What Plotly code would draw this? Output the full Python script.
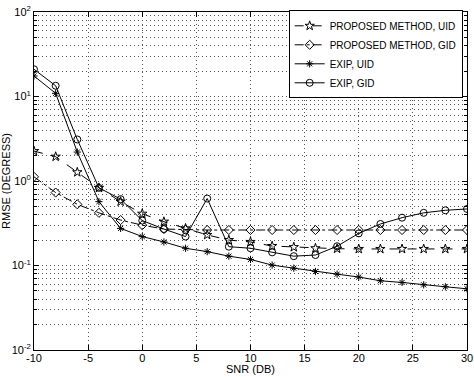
import plotly.graph_objects as go

snr = [-10, -8, -6, -4, -2, 0, 2, 4, 6, 8, 10, 12, 14, 16, 18, 20, 22, 24, 26, 28, 30]

proposed_uid = [2.26, 1.94, 1.27, 0.83, 0.57, 0.41, 0.33, 0.275, 0.23, 0.20, 0.19, 0.17,
                0.165, 0.16, 0.158, 0.157, 0.157, 0.157, 0.157, 0.157, 0.157]
proposed_gid = [1.12, 0.73, 0.53, 0.42, 0.345, 0.30, 0.27, 0.265, 0.263, 0.263, 0.263, 0.263,
                0.263, 0.263, 0.263, 0.263, 0.263, 0.263, 0.263, 0.263, 0.263]
exip_uid = [17.5, 10.9, 2.2, 0.57, 0.275, 0.22, 0.19, 0.16, 0.146, 0.129, 0.118, 0.101,
            0.093, 0.085, 0.079, 0.073, 0.066, 0.063, 0.059, 0.056, 0.053]
exip_gid = [21.0, 13.4, 3.1, 0.83, 0.61, 0.34, 0.27, 0.22, 0.62, 0.167, 0.16, 0.143,
            0.129, 0.133, 0.169, 0.24, 0.31, 0.368, 0.42, 0.45, 0.467]

names = ["PROPOSED METHOD, UID", "PROPOSED METHOD, GID", "EXIP, UID", "EXIP, GID"]

y_tickvals = [0.01, 0.1, 1, 10, 100]
y_ticktext = ["10<sup>-2</sup>", "10<sup>-1</sup>", "10<sup>0</sup>", "10<sup>1</sup>", "10<sup>2</sup>"]
x_tickvals = [-10, -5, 0, 5, 10, 15, 20, 25, 30]

FONT = "Liberation Sans, Arial"
GRID = "#555555"
GDASH = "1px,3px"

series = [
    (proposed_uid, "star-open", "dash", 7),
    (proposed_gid, "diamond-open", "dashdot", 7),
    (exip_uid, "asterisk-open", "solid", 6),
    (exip_gid, "circle-open", "solid", 7),
]

fig = go.Figure()
for (vals, sym, dash, msize), name in zip(series, names):
    fig.add_trace(go.Scatter(
        x=snr, y=vals, name=name, mode="lines+markers",
        line=dict(color="black", width=1, dash=dash),
        marker=dict(symbol=sym, size=msize, color="black", line=dict(color="black", width=1)),
    ))

axis_common = dict(
    showline=True, linecolor="black", linewidth=1, mirror="ticks",
    ticks="inside", tickcolor="black", ticklen=5,
    showgrid=True, gridcolor=GRID, gridwidth=1, griddash=GDASH,
    zeroline=False, automargin=False,
    tickfont=dict(family=FONT, size=11, color="black"),
)

fig.update_xaxes(
    range=[-10, 30], tickvals=x_tickvals, ticktext=[str(v) for v in x_tickvals],
    ticklabelstandoff=-2,
    **axis_common,
)
fig.update_yaxes(
    type="log", range=[-2, 2], tickvals=y_tickvals, ticktext=y_ticktext,
    title=dict(text="RMSE (DEGRESS)", font=dict(family=FONT, size=11, color="black"), standoff=6),
    minor=dict(ticks="inside", ticklen=3, tickcolor="black", showgrid=True,
               gridcolor=GRID, griddash=GDASH,
               tickvals=[m * 10 ** e for e in (-2, -1, 0, 1) for m in range(2, 10)]),
    **axis_common,
)

fig.add_annotation(
    text="SNR (DB)", xref="paper", yref="paper", x=0.5, y=-0.079,
    xanchor="center", yanchor="bottom", showarrow=False,
    font=dict(family=FONT, size=11, color="black"),
)

fig.update_layout(
    width=474, height=377,
    margin=dict(l=34, r=7, t=12, b=27),
    paper_bgcolor="white", plot_bgcolor="white",
    font=dict(family=FONT, color="black", size=10),
    legend=dict(
        x=0.99, y=1.005, xanchor="right", yanchor="top",
        bgcolor="white", bordercolor="black", borderwidth=1,
        font=dict(family=FONT, size=10, color="black"), tracegroupgap=0, itemwidth=30,
        traceorder="normal",
    ),
    showlegend=True,
)

fig.write_html(
    "out.html",
    config={"displayModeBar": False},
    post_script="document.body.style.margin='0';document.body.style.overflow='hidden';",
)
